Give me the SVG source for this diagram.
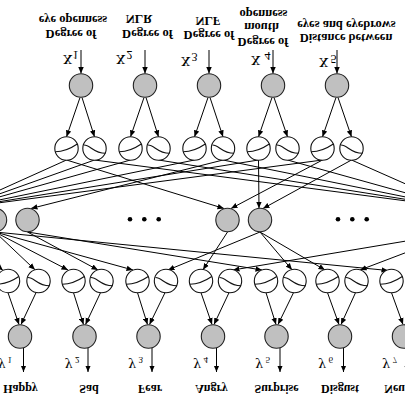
<svg xmlns="http://www.w3.org/2000/svg" xmlns:xlink="http://www.w3.org/1999/xlink" width="405" height="405" viewBox="0 0 405 405">
<style>
.g{fill:#c0c0c0;stroke:#222;stroke-width:1.1}
.m{fill:#fff;stroke:#111;stroke-width:1.1}
.s{fill:none;stroke:#111;stroke-width:1.1}
.c line{stroke:#000;stroke-width:1;marker-end:url(#ah)}
.lb{font-family:"Liberation Serif","Times New Roman",serif;font-weight:bold;font-size:12.5px;text-anchor:middle}
.ol{font-family:"Liberation Serif","Times New Roman",serif;font-weight:bold;font-size:12px;text-anchor:middle}
.v{font-family:"Liberation Serif","Times New Roman",serif;font-size:19px}
.vs{font-family:"Liberation Serif","Times New Roman",serif;font-size:12px}
.y{font-family:"Liberation Serif","Times New Roman",serif;font-size:15px}
.ys{font-family:"Liberation Serif","Times New Roman",serif;font-size:9px}
</style>
<defs>
<marker id="ah" viewBox="0 0 10 10" refX="10" refY="5" markerWidth="6.5" markerHeight="6.5" markerUnits="userSpaceOnUse" orient="auto"><path d="M0,0.8 L10,5 L0,9.2 z" fill="#000"/></marker>
<g id="up"><circle r="11.7" class="m"/><path class="s" d="M-11.2,3.2 C-4,3.2 2,1.5 10.8,-4.5"/></g>
<g id="dn"><circle r="11.7" class="m"/><path class="s" d="M-10.5,-3.5 C-4,-3.5 -1,4.8 11,4.8"/></g>
</defs>

<g id="connectors" class="c">
<!-- inputs -->
<line x1="81" y1="50" x2="81" y2="73.5"/>
<line x1="145" y1="50" x2="145" y2="73.5"/>
<line x1="209" y1="50" x2="209" y2="73.5"/>
<line x1="273" y1="50" x2="273" y2="73.5"/>
<line x1="337" y1="50" x2="337" y2="73.5"/>
<!-- input to membership -->
<line x1="80" y1="97.5" x2="66.5" y2="136.8"/>
<line x1="82" y1="97.5" x2="94.5" y2="136.8"/>
<line x1="144" y1="97.5" x2="130.5" y2="136.8"/>
<line x1="146" y1="97.5" x2="158.5" y2="136.8"/>
<line x1="208" y1="97.5" x2="194.5" y2="136.8"/>
<line x1="210" y1="97.5" x2="223" y2="136.8"/>
<line x1="272" y1="97.5" x2="258.5" y2="136.8"/>
<line x1="274" y1="97.5" x2="287.5" y2="136.8"/>
<line x1="336" y1="97.5" x2="322.5" y2="136.8"/>
<line x1="338" y1="97.5" x2="351.5" y2="136.8"/>
<!-- membership to hidden -->
<line x1="66.5" y1="160" x2="224" y2="208.5"/>
<line x1="66.5" y1="160" x2="-40" y2="208"/>
<line x1="94.5" y1="160" x2="-40" y2="208"/>
<line x1="94.5" y1="160" x2="460" y2="208"/>
<line x1="130.5" y1="160" x2="-40" y2="208"/>
<line x1="158.5" y1="160" x2="460" y2="208"/>
<line x1="194.5" y1="160" x2="-40" y2="208"/>
<line x1="223" y1="160" x2="31" y2="208.5"/>
<line x1="223" y1="160" x2="460" y2="208"/>
<line x1="258.5" y1="160" x2="259" y2="208.3"/>
<line x1="258.5" y1="160" x2="-40" y2="208"/>
<line x1="287.5" y1="160" x2="460" y2="208"/>
<line x1="322.5" y1="160" x2="231" y2="208.5"/>
<line x1="322.5" y1="160" x2="-40" y2="208"/>
<line x1="351.5" y1="160" x2="263" y2="208.5"/>
<line x1="351.5" y1="160" x2="460" y2="208"/>
<!-- hidden to output membership -->
<line x1="-40" y1="232" x2="3" y2="270.5"/>
<line x1="-5" y1="232" x2="35" y2="269.8"/>
<line x1="-5" y1="232" x2="68" y2="270"/>
<line x1="27.5" y1="232" x2="98" y2="270"/>
<line x1="-5" y1="232" x2="133" y2="270"/>
<line x1="260" y1="232" x2="168" y2="270"/>
<line x1="227.5" y1="232" x2="203" y2="269.8"/>
<line x1="460" y1="232" x2="233" y2="270"/>
<line x1="27.5" y1="232" x2="262" y2="270"/>
<line x1="260" y1="232" x2="292" y2="269.8"/>
<line x1="260" y1="232" x2="325" y2="270"/>
<line x1="460" y1="232" x2="360" y2="270"/>
<line x1="-5" y1="232" x2="388" y2="270.5"/>
<!-- output membership to output -->
<line x1="8" y1="292.7" x2="19" y2="324.5"/>
<line x1="36" y1="292.7" x2="21" y2="324.5"/>
<line x1="73.5" y1="292.7" x2="83.5" y2="324.5"/>
<line x1="100.5" y1="292.7" x2="85.5" y2="324.5"/>
<line x1="137.5" y1="292.7" x2="147.5" y2="324.5"/>
<line x1="165" y1="292.7" x2="149.5" y2="324.5"/>
<line x1="201" y1="292.7" x2="212" y2="324.5"/>
<line x1="229" y1="292.7" x2="214" y2="324.5"/>
<line x1="266" y1="292.7" x2="276" y2="324.5"/>
<line x1="293.5" y1="292.7" x2="278" y2="324.5"/>
<line x1="327.5" y1="292.7" x2="339" y2="324.5"/>
<line x1="355.5" y1="292.7" x2="341" y2="324.5"/>
<line x1="391.5" y1="292.7" x2="403" y2="324.5"/>
<line x1="420" y1="292.7" x2="405" y2="324.5"/>
<!-- outputs -->
<line x1="23.5" y1="348" x2="23.5" y2="372"/>
<line x1="88" y1="348" x2="88" y2="372"/>
<line x1="152" y1="348" x2="152" y2="372"/>
<line x1="216.5" y1="348" x2="216.5" y2="372"/>
<line x1="280" y1="348" x2="280" y2="372"/>
<line x1="343.5" y1="348" x2="343.5" y2="372"/>
<line x1="407" y1="348" x2="407" y2="372"/>
</g>

<!-- input labels (printed upside down) -->
<g id="label-x1">
<text class="lb" transform="translate(71,29.5) scale(1,-1)">Degree of</text>
<text class="lb" transform="translate(73,16) scale(1,-1)">eye openness</text>
<text class="v" transform="translate(63,55) scale(1,-1)">x</text>
<text class="vs" transform="translate(72.5,50.5) scale(1,-1)">1</text>
</g>
<g id="label-x2">
<text class="lb" transform="translate(147.5,29.5) scale(1,-1)">Degree of</text>
<text class="lb" transform="translate(139,15) scale(1,-1)">NLR</text>
<text class="v" transform="translate(116,54.5) scale(1,-1)">x</text>
<text class="vs" transform="translate(126.5,50.5) scale(1,-1)">2</text>
</g>
<g id="label-x3">
<text class="lb" transform="translate(209,31) scale(1,-1)">Degree of</text>
<text class="lb" transform="translate(208,17) scale(1,-1)">NLF</text>
<text class="v" transform="translate(181,56.5) scale(1,-1)">x</text>
<text class="vs" transform="translate(191.5,53) scale(1,-1)">3</text>
</g>
<g id="label-x4">
<text class="lb" transform="translate(263,37.5) scale(1,-1)">Degree of</text>
<text class="lb" transform="translate(261.5,23) scale(1,-1)">mouth</text>
<text class="lb" transform="translate(263.5,10) scale(1,-1)">openness</text>
<text class="v" transform="translate(251,55.5) scale(1,-1)">x</text>
<text class="vs" transform="translate(264.5,52) scale(1,-1)">4</text>
</g>
<g id="label-x5">
<text class="lb" transform="translate(346,33.5) scale(1,-1)">Distance between</text>
<text class="lb" transform="translate(346.5,21) scale(1,-1)">eyes and eyebrows</text>
<text class="v" transform="translate(319,58) scale(1,-1)">x</text>
<text class="vs" transform="translate(330.5,55) scale(1,-1)">5</text>
</g>

<!-- input nodes -->
<g id="in1"><circle class="g" cx="81" cy="85.5" r="11.7"/></g>
<g id="in2"><circle class="g" cx="145" cy="85.5" r="11.7"/></g>
<g id="in3"><circle class="g" cx="209" cy="85.5" r="11.7"/></g>
<g id="in4"><circle class="g" cx="273" cy="85.5" r="11.7"/></g>
<g id="in5"><circle class="g" cx="337" cy="85.5" r="11.7"/></g>

<!-- input membership nodes -->
<g id="m1a"><use xlink:href="#up" x="66.5" y="148.5"/></g>
<g id="m1b"><use xlink:href="#dn" x="94.5" y="148.5"/></g>
<g id="m2a"><use xlink:href="#up" x="130.5" y="148.5"/></g>
<g id="m2b"><use xlink:href="#dn" x="158.5" y="148.5"/></g>
<g id="m3a"><use xlink:href="#up" x="194.5" y="148.5"/></g>
<g id="m3b"><use xlink:href="#dn" x="223" y="148.5"/></g>
<g id="m4a"><use xlink:href="#up" x="258.5" y="148.5"/></g>
<g id="m4b"><use xlink:href="#dn" x="287.5" y="148.5"/></g>
<g id="m5a"><use xlink:href="#up" x="322.5" y="148.5"/></g>
<g id="m5b"><use xlink:href="#dn" x="351.5" y="148.5"/></g>

<!-- hidden nodes -->
<g id="h1"><circle class="g" cx="-5" cy="220" r="11.7"/></g>
<g id="h2"><circle class="g" cx="27.5" cy="220" r="11.7"/></g>
<g id="dots1"><circle cx="130" cy="219.3" r="2.3"/><circle cx="144.3" cy="219.3" r="2.3"/><circle cx="158.7" cy="219.3" r="2.3"/></g>
<g id="h3"><circle class="g" cx="227.5" cy="220" r="11.7"/></g>
<g id="h4"><circle class="g" cx="260" cy="220" r="11.7"/></g>
<g id="dots2"><circle cx="338" cy="219.3" r="2.3"/><circle cx="352.3" cy="219.3" r="2.3"/><circle cx="366.7" cy="219.3" r="2.3"/></g>

<!-- output membership nodes -->
<g id="o1a"><use xlink:href="#up" x="8" y="281"/></g>
<g id="o1b"><use xlink:href="#dn" x="38.5" y="281"/></g>
<g id="o2a"><use xlink:href="#up" x="73.5" y="281"/></g>
<g id="o2b"><use xlink:href="#dn" x="101.5" y="281"/></g>
<g id="o3a"><use xlink:href="#up" x="137.5" y="281"/></g>
<g id="o3b"><use xlink:href="#dn" x="166" y="281"/></g>
<g id="o4a"><use xlink:href="#up" x="201" y="281"/></g>
<g id="o4b"><use xlink:href="#dn" x="230" y="281"/></g>
<g id="o5a"><use xlink:href="#up" x="266" y="281"/></g>
<g id="o5b"><use xlink:href="#dn" x="294.5" y="281"/></g>
<g id="o6a"><use xlink:href="#up" x="327.5" y="281"/></g>
<g id="o6b"><use xlink:href="#dn" x="356.5" y="281"/></g>
<g id="o7a"><use xlink:href="#up" x="391.5" y="281"/></g>

<!-- output nodes -->
<g id="out1"><circle class="g" cx="20" cy="336.5" r="11.7"/>
<text class="y" transform="translate(-2,361) scale(1,-1)">y</text><text class="ys" transform="translate(7.5,357) scale(1,-1)">1</text>
<text class="ol" transform="translate(20.5,385) scale(1,-1)">Happy</text></g>
<g id="out2"><circle class="g" cx="84.5" cy="336.5" r="11.7"/>
<text class="y" transform="translate(65,361) scale(1,-1)">y</text><text class="ys" transform="translate(75,357) scale(1,-1)">2</text>
<text class="ol" transform="translate(89,385) scale(1,-1)">Sad</text></g>
<g id="out3"><circle class="g" cx="148.5" cy="336.5" r="11.7"/>
<text class="y" transform="translate(128.5,361) scale(1,-1)">y</text><text class="ys" transform="translate(138.5,357) scale(1,-1)">3</text>
<text class="ol" transform="translate(150,385) scale(1,-1)">Fear</text></g>
<g id="out4"><circle class="g" cx="213" cy="336.5" r="11.7"/>
<text class="y" transform="translate(193.5,361) scale(1,-1)">y</text><text class="ys" transform="translate(203.5,357) scale(1,-1)">4</text>
<text class="ol" transform="translate(211.5,385) scale(1,-1)">Angry</text></g>
<g id="out5"><circle class="g" cx="276.5" cy="336.5" r="11.7"/>
<text class="y" transform="translate(255.5,361) scale(1,-1)">y</text><text class="ys" transform="translate(265.5,357) scale(1,-1)">5</text>
<text class="ol" transform="translate(276.5,385) scale(1,-1)">Surprise</text></g>
<g id="out6"><circle class="g" cx="340" cy="336.5" r="11.7"/>
<text class="y" transform="translate(318.5,361) scale(1,-1)">y</text><text class="ys" transform="translate(328.5,357) scale(1,-1)">6</text>
<text class="ol" transform="translate(340,385) scale(1,-1)">Disgust</text></g>
<g id="out7"><circle class="g" cx="404" cy="336.5" r="11.7"/>
<text class="y" transform="translate(382.5,361) scale(1,-1)">y</text><text class="ys" transform="translate(392.5,357) scale(1,-1)">7</text>
<text class="ol" transform="translate(404,385) scale(1,-1)">Neutral</text></g>
</svg>
